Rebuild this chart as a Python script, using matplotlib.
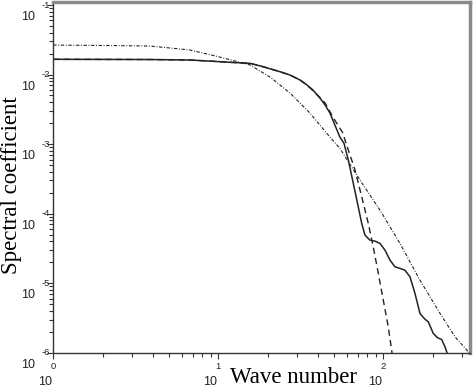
import matplotlib
matplotlib.use("Agg")
import matplotlib.pyplot as plt
import numpy as np

# wave number / log10(spectral coefficient) (log-log)
k_solid = [1.0, 3.86, 6.74, 10.2, 11.8, 15.6, 18.7, 23.7, 27.2, 31.3, 34.5, 37.5,
           41.3, 44.4, 47.5, 50.9, 54.6, 57.8, 61.4, 65.8, 70.5, 74.0, 77.4, 83.0,
           89.0, 95.5, 102.4, 109.8, 117.7, 126.2, 135.3, 145.1, 155.6, 166.8,
           178.8, 187.4, 200.9, 213.8, 226.0, 236.6, 244.2]
logv_solid = [-1.781, -1.784, -1.791, -1.815, -1.824, -1.839, -1.888, -1.960, -2.007,
              -2.079, -2.151, -2.223, -2.338, -2.439, -2.554, -2.727, -2.900, -2.990,
              -3.230, -3.566, -3.902, -4.141, -4.309, -4.381, -4.396, -4.429, -4.525,
              -4.669, -4.765, -4.788, -4.813, -4.909, -5.148, -5.436, -5.518, -5.557,
              -5.724, -5.787, -5.810, -5.917, -6.012]

k_dashed = [1.0, 3.86, 6.74, 10.2, 11.8, 15.6, 18.7, 23.7, 27.2, 31.3, 34.5, 41.3,
            44.4, 49.5, 56.9, 58.6, 67.4, 74.0, 81.1, 86.9, 93.3, 100.0, 107.2, 112.4,
            113.5]
logv_dashed = [-1.781, -1.784, -1.791, -1.815, -1.824, -1.839, -1.888, -1.960, -2.007,
               -2.079, -2.151, -2.330, -2.410, -2.612, -2.842, -2.942, -3.374, -3.758,
               -4.141, -4.478, -4.861, -5.245, -5.629, -5.964, -6.05]

k_dashdot = [1.0, 2.21, 3.86, 6.74, 10.2, 15.6, 20.6, 27.2, 35.9, 47.5, 54.6, 72.2,
             95.5, 126.2, 166.8, 220.8, 272.2, 321.2, 359.0]
logv_dashdot = [-1.576, -1.583, -1.590, -1.647, -1.748, -1.863, -2.036, -2.266, -2.554,
                -2.899, -3.062, -3.518, -3.950, -4.429, -4.957, -5.436, -5.773, -5.964,
                -6.15]

x_decades = [0, 1, 2]
y_decades = [-1, -2, -3, -4, -5, -6]

W, H = 474, 389
fig = plt.figure(figsize=(W / 100, H / 100), dpi=100)
ax = fig.add_axes([53.3 / W, (H - 352.7) / H, (470 - 53.3) / W, (352.7 - 2) / H])

line_col = "#222222"
ax.plot(k_solid, 10.0 ** np.array(logv_solid), "-", color=line_col, lw=1.1)
ax.plot(k_dashed, 10.0 ** np.array(logv_dashed), color=line_col, lw=1.0,
        dashes=(4.5, 3))
ax.plot(k_dashdot, 10.0 ** np.array(logv_dashdot), color=line_col, lw=0.8,
        dashes=(3, 1.5, 0.8, 1.5))

ax.set_xscale("log")
ax.set_yscale("log")
ax.set_xlim(1, 10 ** ((470 - 53.3) / 165))
ax.set_ylim(1e-6, 10 ** (-1 + 3 / 69.5))

for side in ["left", "bottom"]:
    ax.spines[side].set_color("#333333")
    ax.spines[side].set_linewidth(1.0)
for side in ["top", "right"]:
    ax.spines[side].set_color("#8a8a8a")
    ax.spines[side].set_linewidth(2.5)

ax.tick_params(which="major", direction="out", length=4.2, width=0.8, color="#333333")
ax.tick_params(which="minor", direction="out", length=2.9, width=0.8, color="#333333")
ax.xaxis.set_major_locator(matplotlib.ticker.LogLocator(base=10, numticks=10))
ax.xaxis.set_minor_locator(matplotlib.ticker.LogLocator(base=10, subs=np.arange(2, 10), numticks=20))
ax.yaxis.set_major_locator(matplotlib.ticker.LogLocator(base=10, numticks=10))
ax.yaxis.set_minor_locator(matplotlib.ticker.LogLocator(base=10, subs=np.arange(2, 10), numticks=20))
ax.set_xticklabels([])
ax.set_yticklabels([])
ax.xaxis.set_minor_formatter(matplotlib.ticker.NullFormatter())
ax.yaxis.set_minor_formatter(matplotlib.ticker.NullFormatter())

tick_font = "Liberation Sans"
for d in y_decades:
    ax.annotate(f"{d}", xy=(0, 10.0 ** d), xycoords=("axes fraction", "data"),
                xytext=(-3, 0), textcoords="offset pixels", ha="right", va="center",
                fontsize=6.8, family=tick_font, color="#222222", annotation_clip=False)
    ax.annotate("10", xy=(0, 10.0 ** d), xycoords=("axes fraction", "data"),
                xytext=(-18, -12), textcoords="offset pixels", ha="right", va="center",
                fontsize=9, family=tick_font, color="#222222", annotation_clip=False)
for d in x_decades:
    ax.annotate(f"{d}", xy=(10.0 ** d, 0), xycoords=("data", "axes fraction"),
                xytext=(0, -14), textcoords="offset pixels", ha="center", va="center",
                fontsize=6.8, family=tick_font, color="#222222", annotation_clip=False)
    ax.annotate("10", xy=(10.0 ** d, 0), xycoords=("data", "axes fraction"),
                xytext=(-1, -29), textcoords="offset pixels", ha="right", va="center",
                fontsize=9, family=tick_font, color="#222222", annotation_clip=False)

fig.text(293 / W, (H - 383) / H, "Wave number", ha="center", va="baseline",
         fontsize=16.5, family="Liberation Serif")
fig.text(12 / W, (H - 185) / H, "Spectral coefficient", ha="center", va="center",
         rotation=90, fontsize=16.5, family="Liberation Serif")

fig.savefig("out.png", dpi=100)
